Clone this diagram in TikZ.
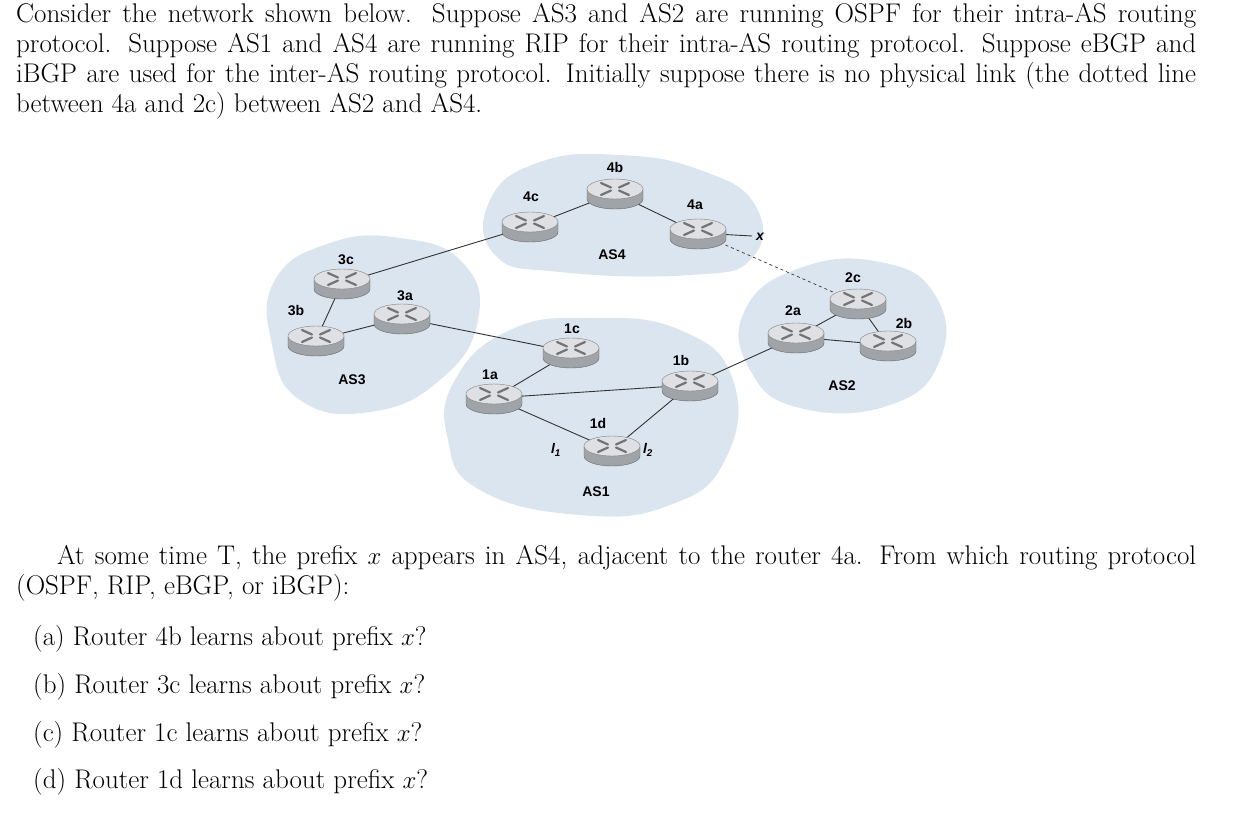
\documentclass[tikz,border=0pt]{standalone}
\usepackage{fontspec}
\newfontfamily\lab{Liberation Sans}
\usetikzlibrary{shapes.geometric}
\definecolor{blob}{RGB}{219,229,239}
\definecolor{rtop}{RGB}{222,224,228}
\definecolor{rside}{RGB}{160,163,168}
\tikzset{
 pt/.style={inner sep=0pt,minimum width=56pt,minimum height=26pt,ellipse},
 lnk/.style={line width=0.9pt,black!80},
 lb/.style={font=\lab\bfseries\fontsize{14}{15}\selectfont,inner sep=0pt},
 txt/.style={anchor=north west,inner sep=0pt,font=\fontsize{27}{30}\selectfont}
}
\newcommand{\rtr}[1]{%
 \begin{scope}[shift={(#1)}]
 \fill[rside,draw=black!60,line width=0.4pt] (-28,-4) -- (-28,6) arc[start angle=180,end angle=0,x radius=28,y radius=10] -- (28,-4) -- cycle;
 \fill[rtop,draw=black!50,line width=0.4pt] (0,-4) ellipse[x radius=28,y radius=10];
 \foreach \a in {1,-1}{\foreach \b in {1,-1}{
   \draw[black!55,line width=2.2pt,line cap=round] (\a*4,\b*1.5-4) -- (\a*14,\b*6-4);}}
 \end{scope}}
\begin{document}
\begin{tikzpicture}[x=1pt,y=-1pt]
\useasboundingbox (0,0) rectangle (1242,814);
\node[txt,text width=1180pt,align=justify] (p1) at (16,3) {Consider the network shown below. Suppose AS3 and AS2 are running OSPF for their intra-AS routing protocol. Suppose AS1 and AS4 are running RIP for their intra-AS routing protocol. Suppose eBGP and iBGP are used for the inter-AS routing protocol. Initially suppose there is no physical link (the dotted line between 4a and 2c) between AS2 and AS4.};
\node[txt,text width=1180pt,align=justify] (p2) at (16,545) {\hspace*{41pt}At some time T, the prefix $x$ appears in AS4, adjacent to the router 4a. From which routing protocol (OSPF, RIP, eBGP, or iBGP):};
\node[txt] (qa) at (33,625) {(a) Router 4b learns about prefix $x$?};
\node[txt] (qb) at (33,673) {(b) Router 3c learns about prefix $x$?};
\node[txt] (qc) at (33,721) {(c) Router 1c learns about prefix $x$?};
\node[txt] (qd) at (33,768) {(d) Router 1d learns about prefix $x$?};
% blobs
\fill[blob] plot[smooth cycle,tension=0.8] coordinates {(490,200) (540,162) (620,155) (700,170) (755,205) (752,258) (690,275) (560,272) (495,255)};
\fill[blob] plot[smooth cycle,tension=0.8] coordinates {(275,280) (330,243) (400,238) (462,262) (478,320) (440,380) (370,412) (300,400) (272,345)};
\fill[blob] plot[smooth cycle,tension=0.8] coordinates {(455,380) (510,330) (590,318) (680,330) (733,380) (725,460) (670,505) (580,515) (480,490) (448,440)};
\fill[blob] plot[smooth cycle,tension=0.8] coordinates {(745,310) (800,268) (880,262) (935,295) (940,360) (890,405) (800,408) (750,370)};
% router anchors
\foreach \n/\p in {4b/{615,193},4c/{530,226},4a/{698,233},3c/{342,283},3b/{316,340},3a/{402,318},1c/{571,352},1a/{494,398},1b/{690,385},1d/{612,450},2c/{858,303},2a/{796,337},2b/{888,345}}
  \node[pt] (r\n) at (\p) {};
\coordinate (cx) at (752,236);
\draw[lnk] (r4c)--(r4b) (r4b)--(r4a) (r4c)--(r3c) (r3c)--(r3b) (r3b)--(r3a) (r3a)--(r1c) (r1c)--(r1a) (r1a)--(r1b) (r1a)--(r1d) (r1d)--(r1b) (r1b)--(r2a) (r2a)--(r2c) (r2a)--(r2b) (r2c)--(r2b) (r4a.center)--(cx);
\draw[lnk,dashed,line width=0.7pt] (r4a.center)--(r2c.center);
\foreach \n in {4b,4c,4a,3c,3b,3a,1c,1a,1b,1d,2c,2a,2b}{\rtr{r\n}}
\foreach \n/\p in {4b/{615,167},4c/{531,197},4a/{695,205},3c/{346,260},3b/{296,311},3a/{405,296},1c/{572,329},1a/{490,375},1b/{681,360},1d/{598,423},2c/{853,278},2a/{793,311},2b/{904,323},AS4/{612,255},AS3/{352,380},AS1/{596,492},AS2/{842,386}}
  \node[lb] (t\n) at (\p) {\n};
\node[lb,font=\lab\itshape\bfseries\fontsize{14}{15}\selectfont] (tx) at (760,237) {x};
\node[lb,font=\lab\itshape\bfseries\fontsize{14}{15}\selectfont] (tl1) at (556,450) {l\textsubscript{1}};
\node[lb,font=\lab\itshape\bfseries\fontsize{14}{15}\selectfont] (tl2) at (648,450) {l\textsubscript{2}};
\end{tikzpicture}
\end{document}
